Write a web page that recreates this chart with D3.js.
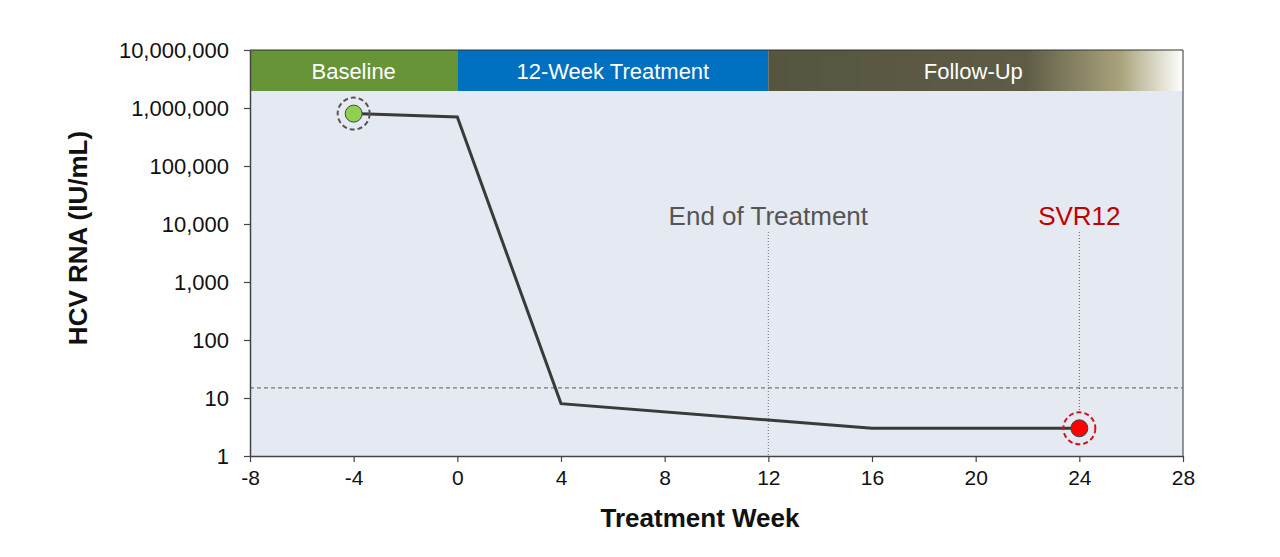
<!DOCTYPE html>
<html>
<head>
<meta charset="utf-8">
<script src="https://cdn.jsdelivr.net/npm/d3@7"></script>
<style>
  body { margin: 0; background: #fff; }
  svg text { font-family: "Liberation Sans", Arial, sans-serif; }
</style>
</head>
<body>
<div id="chart"></div>
<script>
"use strict";

// data
const weeks = [-4, 0, 4, 16, 24];
const viralLoad = [800000, 700000, 8, 3, 3];
const xTicks = [-8, -4, 0, 4, 8, 12, 16, 20, 24, 28];
const yTicks = [1, 10, 100, 1000, 10000, 100000, 1000000, 10000000];
const lloq = 15;
const phases = [
  { name: "Baseline", from: -8, to: 0 },
  { name: "12-Week Treatment", from: 0, to: 12 },
  { name: "Follow-Up", from: 12, to: 28 }
];
const markers = [
  { week: -4, value: 800000, fill: "#8fd14f", ring: "#555" },
  { week: 24, value: 3, fill: "#ff0000", ring: "#d0141c" }
];
const notes = [
  { week: 12, text: "End of Treatment", color: "#555", to: 1 },
  { week: 24, text: "SVR12", color: "#c00000", to: 3 }
];

const width = 1280, height = 557;
const plotLeft = 250, plotRight = 1183, plotTop = 50, plotBottom = 456;

const svg = d3.select("#chart")
  .append("svg")
  .attr("width", width)
  .attr("height", height);

const x = d3.scaleLinear().domain([-8, 28]).range([plotLeft, plotRight]);
const y = d3.scaleLog().domain([1, 10000000]).range([plotBottom, plotTop]);

// plot background
svg.append("rect")
  .attr("x", plotLeft).attr("y", plotTop)
  .attr("width", plotRight - plotLeft).attr("height", plotBottom - plotTop)
  .attr("fill", "#e5e9f1");

// phase header band
const defs = svg.append("defs");
const grad = defs.append("linearGradient").attr("id", "fu");
grad.append("stop").attr("offset", "0%").attr("stop-color", "#56553f");
grad.append("stop").attr("offset", "62%").attr("stop-color", "#5e5c46");
grad.append("stop").attr("offset", "85%").attr("stop-color", "#a9a47c");
grad.append("stop").attr("offset", "100%").attr("stop-color", "#ffffff");

const phaseFill = ["#679437", "#0070c0", "url(#fu)"];
const bandH = 41;

svg.selectAll(".phase")
  .data(phases)
  .join("rect")
  .attr("class", "phase")
  .attr("x", d => x(d.from))
  .attr("y", plotTop)
  .attr("width", d => x(d.to) - x(d.from))
  .attr("height", bandH)
  .attr("fill", (d, i) => phaseFill[i]);

svg.selectAll(".phase-label")
  .data(phases)
  .join("text")
  .attr("class", "phase-label")
  .attr("x", d => d.name === "Follow-Up" ? x(d.from) + 205 : (x(d.from) + x(d.to)) / 2)
  .attr("y", plotTop + 29)
  .attr("text-anchor", "middle")
  .attr("fill", "#fff")
  .style("font-size", "22px")
  .text(d => d.name);

// plot border (top and right)
svg.append("path")
  .attr("d", `M${plotLeft},${plotTop}H${plotRight}V${plotBottom}`)
  .attr("fill", "none")
  .attr("stroke", "#333")
  .attr("stroke-width", 1);

// LLOQ dashed line
svg.append("line")
  .attr("x1", plotLeft).attr("x2", plotRight)
  .attr("y1", y(lloq)).attr("y2", y(lloq))
  .attr("stroke", "#777")
  .attr("stroke-width", 1.2)
  .attr("stroke-dasharray", "4,3");

// annotations
svg.selectAll(".note-line")
  .data(notes)
  .join("line")
  .attr("class", "note-line")
  .attr("x1", d => x(d.week)).attr("x2", d => x(d.week))
  .attr("y1", 232)
  .attr("y2", d => d.to === 1 ? plotBottom : y(d.to) - 16)
  .attr("stroke", d => d.color)
  .attr("stroke-width", 0.8)
  .attr("stroke-dasharray", "1,2");

svg.selectAll(".note")
  .data(notes)
  .join("text")
  .attr("class", "note")
  .attr("x", d => x(d.week))
  .attr("y", 225)
  .attr("text-anchor", "middle")
  .attr("fill", d => d.color)
  .style("font-size", "26px")
  .text(d => d.text);

// viral load line
const line = d3.line()
  .x((d, i) => x(weeks[i]))
  .y(d => y(d));

svg.append("path")
  .datum(viralLoad)
  .attr("d", line)
  .attr("fill", "none")
  .attr("stroke", "#3a3a3a")
  .attr("stroke-width", 3);

// markers
svg.selectAll(".ring")
  .data(markers)
  .join("circle")
  .attr("class", "ring")
  .attr("cx", d => x(d.week))
  .attr("cy", d => y(d.value))
  .attr("r", 16)
  .attr("fill", "none")
  .attr("stroke", d => d.ring)
  .attr("stroke-width", 2)
  .attr("stroke-dasharray", "5,3");

svg.selectAll(".dot")
  .data(markers)
  .join("circle")
  .attr("class", "dot")
  .attr("cx", d => x(d.week))
  .attr("cy", d => y(d.value))
  .attr("r", 8.5)
  .attr("fill", d => d.fill)
  .attr("stroke", "#444")
  .attr("stroke-width", 1);

// axes
const xAxis = svg.append("g")
  .attr("transform", `translate(0,${plotBottom})`)
  .call(d3.axisBottom(x).tickValues(xTicks).tickSize(6).tickSizeOuter(0)
    .tickFormat(d => String(d)));

const yAxis = svg.append("g")
  .attr("transform", `translate(${plotLeft},0)`)
  .call(d3.axisLeft(y).tickValues(yTicks).tickSize(6).tickSizeOuter(0)
    .tickFormat(d3.format(",")));

[xAxis, yAxis].forEach(g => {
  g.select(".domain").attr("stroke", "#444").attr("stroke-width", 1.5);
  g.selectAll(".tick line").attr("stroke", "#444").attr("stroke-width", 1.2);
  g.selectAll("text").attr("fill", "#111").style("font-size", "21px")
    .style("font-family", "'Liberation Sans', Arial, sans-serif");
});
xAxis.selectAll("text").attr("y", 14).attr("dy", "0.71em");
yAxis.selectAll("text").style("font-size", "22px").attr("x", -21).attr("dy", "0.34em");

// axis titles
svg.append("text")
  .attr("x", 700)
  .attr("y", 527)
  .attr("text-anchor", "middle")
  .attr("fill", "#111")
  .style("font-size", "26px")
  .style("font-weight", "bold")
  .text("Treatment Week");

svg.append("text")
  .attr("transform", `translate(87,${(plotTop + plotBottom) / 2 - 15}) rotate(-90)`)
  .attr("text-anchor", "middle")
  .attr("fill", "#111")
  .style("font-size", "26px")
  .style("font-weight", "bold")
  .text("HCV RNA (IU/mL)");
</script>
</body>
</html>
